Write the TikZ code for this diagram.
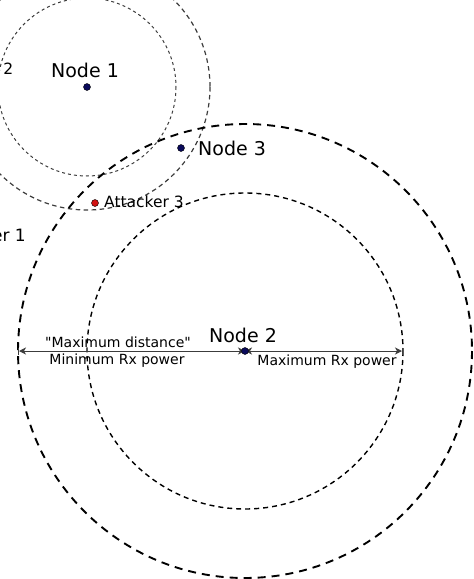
\documentclass[tikz,border=0pt]{standalone}
\usepackage{fontspec}
\setmainfont{DejaVu Sans}[Ligatures=TeXOff]
\usepackage{xcolor}
\usepackage{tikz}
\usetikzlibrary{arrows,arrows.meta,positioning,calc}
\definecolor{NETnavy}{RGB}{10,10,90}
\definecolor{NETred}{RGB}{210,20,20}
\definecolor{NETgrey}{RGB}{60,60,60}
\tikzstyle{dot}     = [circle, draw=black, line width=0.4pt, inner sep=0pt, minimum size=7pt]
\tikzstyle{Dnode}   = [dot, fill=NETnavy]
\tikzstyle{Datk}    = [dot, fill=NETred]
\tikzstyle{lbl}     = [inner sep=0pt, font=\fontsize{19}{22}\selectfont]
\tikzstyle{albl}    = [inner sep=0pt, font=\fontsize{15.5}{18}\selectfont]
\tikzstyle{rxlbl}   = [inner sep=0pt, font=\fontsize{14}{16}\selectfont]
\tikzstyle{rangeO}  = [line width=1.9pt, dash pattern=on 8pt off 6pt]
\tikzstyle{rangeI}  = [line width=1.4pt, dash pattern=on 5pt off 4pt]
\tikzstyle{rangeS}  = [NETgrey, line width=1pt, dash pattern=on 3pt off 3pt]
\tikzstyle{rangeM}  = [NETgrey, line width=1.2pt, dash pattern=on 4.5pt off 3.5pt]
\tikzstyle{meas}    = [NETgrey, line width=1pt]

\begin{document}
\begin{tikzpicture}[x=1pt, y=-1pt, >={Stealth[length=7pt,width=7pt,inset=2pt]}]

  \useasboundingbox (0,0) rectangle (474,579);
  \clip (0,0) rectangle (474,579);

  % positions
  \coordinate (p1) at (87,87);
  \coordinate (p2) at (245,351);
  \coordinate (p3) at (181,148);
  \coordinate (pa) at (95,203);

  % ranges
  \draw[rangeS] (p1) circle (89);
  \draw[rangeM] (p1) circle (123);
  \draw[rangeI] (p2) circle (158);
  \draw[rangeO] (p2) circle (227);

  % distance markers
  \coordinate (farL) at (18,351);
  \coordinate (farR) at (403,351);
  \draw[meas, |<->] (farL) -- (p2);
  \draw[meas, <->|] (p2) -- (farR);

  \node[Dnode] (n1) at (p1) {};
  \node[Dnode] (n2) at (p2) {};
  \node[Dnode] (n3) at (p3) {};
  \node[Datk]  (a3) at (pa) {};

  \node[lbl, anchor=base] (t1) at (85,77) {Node 1};
  \node[lbl, anchor=base] (t2) at (243,342) {Node 2};
  \node[lbl, anchor=base west] (t3) at (198,155) {Node 3};
  \node[albl, anchor=base west] (ta3) at (104,207) {Attacker 3};
  \node[albl, font=\fontsize{17}{20}\selectfont, anchor=base east] (ta1) at (26,241) {Attacker 1};
  \node[albl, anchor=base east] (ta2) at (13.5,74) {Attacker 2};

  \node[rxlbl, anchor=base] (dmax) at (118,347) {"Maximum distance"};
  \node[rxlbl, anchor=base] (rxmin) at (117,364) {Minimum Rx power};
  \node[rxlbl, anchor=base] (rxmax) at (327,365) {Maximum Rx power};

\end{tikzpicture}
\end{document}
